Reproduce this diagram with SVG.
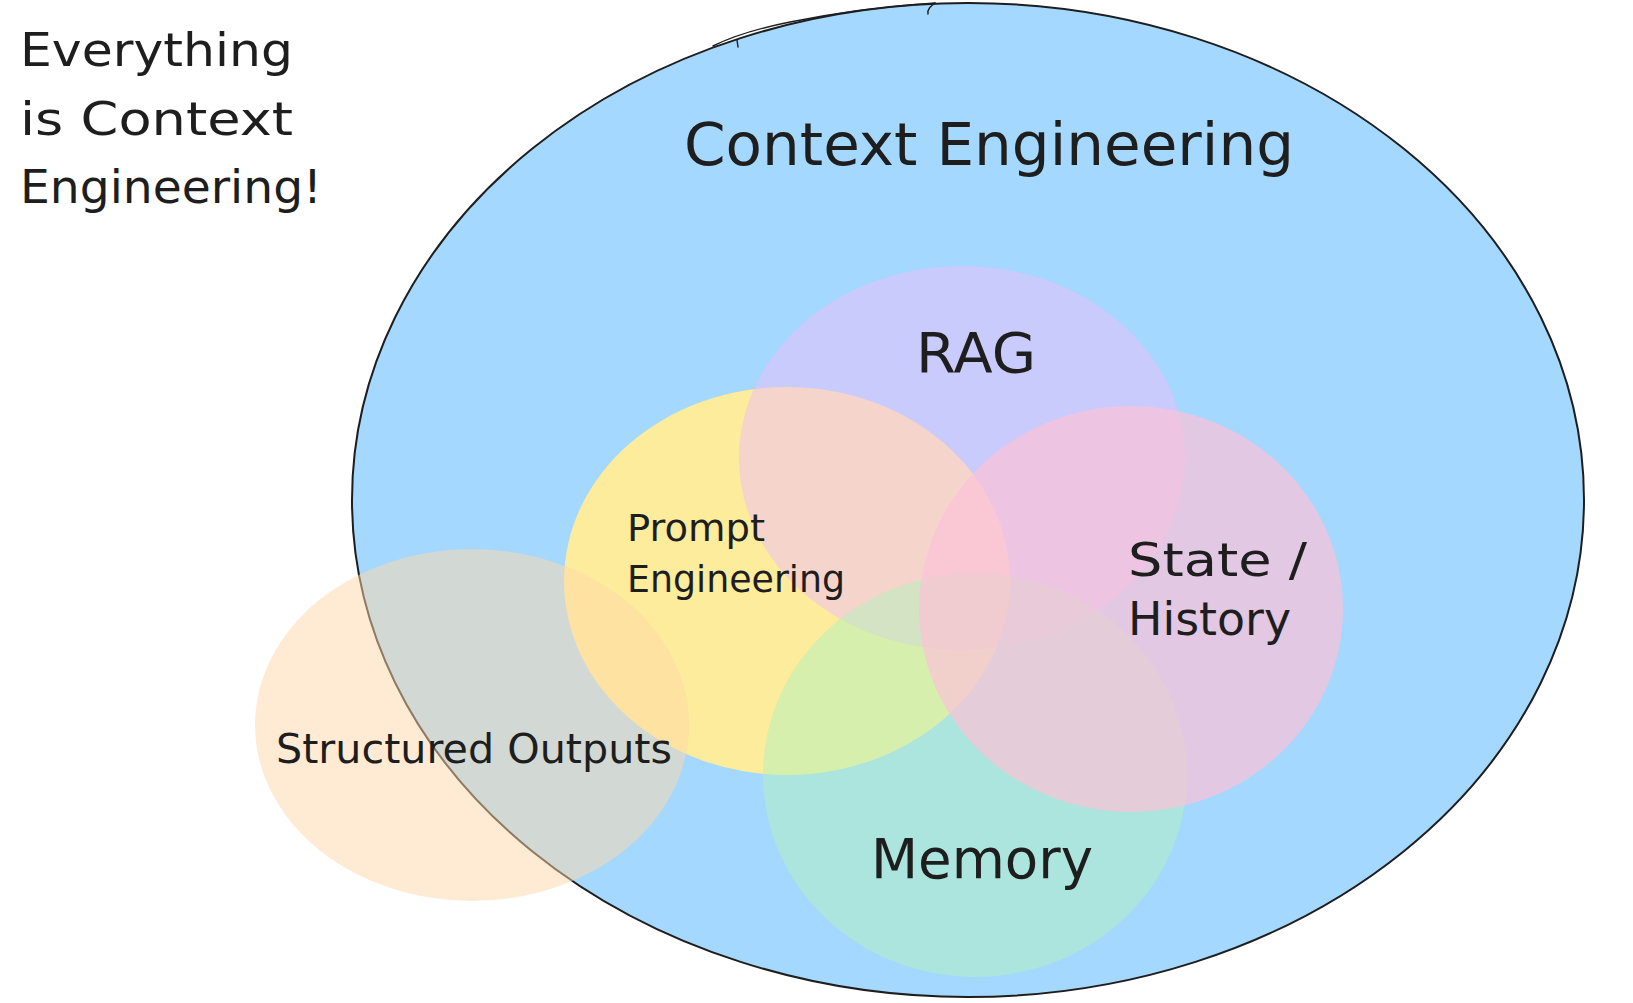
<svg xmlns="http://www.w3.org/2000/svg" width="1633" height="1003" viewBox="0 0 1633 1003">
  <style>
    .lbl { font-family: "DejaVu Sans", "Liberation Sans", sans-serif; fill: #1e1e1e; }
    .sk { fill: none; stroke: #1e1e1e; stroke-width: 1.4; stroke-linecap: round; }
  </style>
  <rect width="1633" height="1003" fill="#ffffff"/>

  <g id="title">
    <text class="lbl" font-size="46" x="20" y="66" textLength="273" lengthAdjust="spacingAndGlyphs">Everything</text>
    <text class="lbl" font-size="46" x="20" y="135" textLength="273" lengthAdjust="spacingAndGlyphs">is Context</text>
    <text class="lbl" font-size="46" x="20" y="203" textLength="302" lengthAdjust="spacingAndGlyphs">Engineering!</text>
  </g>

  <g id="context-engineering">
    <ellipse cx="968" cy="500" rx="616" ry="497" fill="#a5d8ff" stroke="#1e1e1e" stroke-width="2"/>
    <path class="sk" d="M713,46 C735,35 760,28 790,22 C840,12 890,6 935,3"/>
    <path class="sk" d="M737,40 L738,47"/>
    <path class="sk" d="M935,3 C931,6 927,9 928,14"/>
    <text class="lbl" font-size="58" x="684" y="165" textLength="610" lengthAdjust="spacingAndGlyphs">Context Engineering</text>
  </g>

  <g id="prompt-engineering">
    <ellipse cx="787" cy="581" rx="223" ry="194" fill="#ffec99" opacity="0.97"/>
  </g>

  <g id="rag">
    <ellipse cx="962" cy="458" rx="223" ry="192" fill="#eebefa" opacity="0.5"/>
  </g>

  <g id="memory">
    <ellipse cx="975" cy="775" rx="212" ry="202" fill="#b2f2bb" opacity="0.5"/>
  </g>

  <g id="state-history">
    <ellipse cx="1131" cy="609" rx="212" ry="203" fill="#fcc2d7" opacity="0.7"/>
  </g>

  <g id="structured-outputs">
    <ellipse cx="472" cy="725" rx="217" ry="176" fill="#ffd8a8" opacity="0.5"/>
  </g>

  <g id="labels">
    <text class="lbl" font-size="56" x="916" y="372" textLength="120" lengthAdjust="spacingAndGlyphs">RAG</text>
    <text class="lbl" font-size="38" x="627" y="541" textLength="138" lengthAdjust="spacingAndGlyphs">Prompt</text>
    <text class="lbl" font-size="38" x="627" y="592" textLength="218" lengthAdjust="spacingAndGlyphs">Engineering</text>
    <text class="lbl" font-size="46" x="1128" y="576" textLength="179" lengthAdjust="spacingAndGlyphs">State /</text>
    <text class="lbl" font-size="46" x="1128" y="635" textLength="163" lengthAdjust="spacingAndGlyphs">History</text>
    <text class="lbl" font-size="56" x="871" y="878" textLength="222" lengthAdjust="spacingAndGlyphs">Memory</text>
    <text class="lbl" font-size="41" x="276" y="763" textLength="396" lengthAdjust="spacingAndGlyphs">Structured Outputs</text>
  </g>

  <g id="connectors"></g>
</svg>
